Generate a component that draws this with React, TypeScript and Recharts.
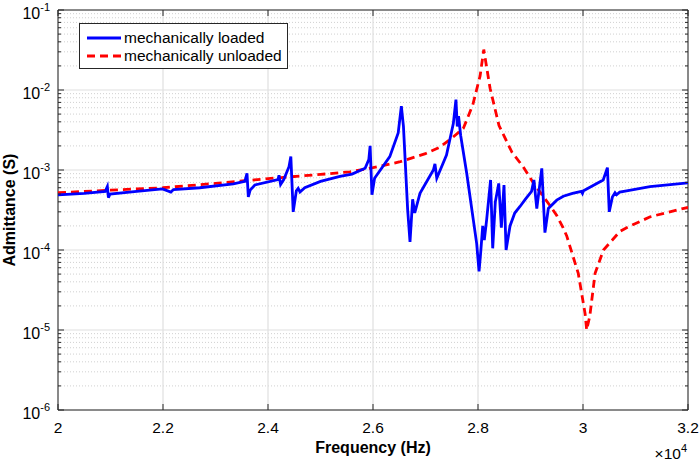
import { CartesianGrid, Label, Legend, Line, LineChart, ReferenceArea, XAxis, YAxis } from 'recharts';

const loadedFreq = [
  20000, 20500, 20900, 20940, 20960, 20990, 21500, 21990, 22150, 22200, 22700, 23340, 23560, 23600, 23625, 23660,
  23750, 24190, 24210, 24240, 24300, 24400, 24435, 24480, 24540, 24575, 24610, 24700, 25000, 25370, 25600, 25850,
  25920, 25945, 25980, 26030, 26320, 26480, 26540, 26580, 26660, 26705, 26755, 26795, 26895, 27150, 27180, 27215,
  27400, 27530, 27580, 27605, 27630, 27670, 27785, 27910, 27975, 28020, 28050, 28090, 28120, 28165, 28240, 28280,
  28330, 28395, 28445, 28495, 28535, 28610, 28700, 28800, 28900, 29020, 29065, 29120, 29215, 29275, 29340, 29500,
  29625, 29800, 29970, 29990, 30010, 30385, 30465, 30500, 30560, 30610, 30640, 30700, 30830, 31275, 32000
];
const loadedAdm = [
  4.9e-4, 5.1e-4, 5.4e-4, 6.2e-4, 4.5e-4, 5.0e-4, 5.4e-4, 5.8e-4, 5.3e-4, 5.7e-4, 6.0e-4, 6.7e-4, 7.2e-4, 9.1e-4, 4.6e-4, 5.6e-4,
  6.5e-4, 7.6e-4, 8.6e-4, 6.6e-4, 7.6e-4, 1.1e-3, 1.47e-3, 3.0e-4, 5.5e-4, 5.9e-4, 5.3e-4, 6.0e-4, 7.2e-4, 8.3e-4, 8.9e-4, 1.05e-3,
  1.35e-3, 2.0e-3, 4.9e-4, 7.9e-4, 1.47e-3, 2.9e-3, 6.3e-3, 3.5e-3, 3.2e-4, 1.26e-4, 4.3e-4, 2.9e-4, 5.1e-4, 1.0e-3, 1.19e-3, 7.9e-4,
  1.54e-3, 3.8e-3, 7.6e-3, 3.5e-3, 4.7e-3, 2.7e-3, 9.1e-4, 2.4e-4, 1.2e-4, 5.4e-5, 9.1e-5, 2.0e-4, 1.33e-4, 2.4e-4, 7.5e-4, 1.05e-4,
  4.0e-4, 6.8e-4, 1.9e-4, 6.5e-4, 1.0e-4, 2.0e-4, 2.9e-4, 3.5e-4, 4.3e-4, 5.4e-4, 7.5e-4, 3.3e-4, 1.05e-3, 1.65e-4, 3.3e-4, 4.2e-4,
  4.7e-4, 5.1e-4, 5.4e-4, 5.1e-4, 5.5e-4, 7.5e-4, 1.07e-3, 3.0e-4, 4.6e-4, 5.2e-4, 4.9e-4, 5.3e-4, 5.5e-4, 6.2e-4, 6.9e-4
];

const unloadedFreq = [
  20000, 21000, 22000, 23000, 24000, 25000, 25560, 26000, 26500, 27000, 27280, 27500, 27720, 27900, 28040, 28110,
  28230, 28400, 28650, 28860, 29060, 29370, 29500, 29620, 29690, 29910, 30040, 30070, 30130, 30230, 30390, 30700,
  30830, 31280, 31900, 32000
];
const unloadedAdm = [
  5.2e-4, 5.6e-4, 6.0e-4, 6.8e-4, 7.8e-4, 8.8e-4, 9.5e-4, 1.07e-3, 1.26e-3, 1.6e-3, 1.94e-3, 2.5e-3, 3.3e-3, 6.5e-3, 1.5e-2, 3.2e-2,
  1.05e-2, 3.6e-3, 1.65e-3, 1.1e-3, 6.8e-4, 3.6e-4, 2.7e-4, 1.9e-4, 1.5e-4, 5.1e-5, 1.6e-5, 1.0e-5, 1.5e-5, 5.1e-5, 1.0e-4, 1.7e-4,
  1.9e-4, 2.6e-4, 3.3e-4, 3.4e-4
];

const xTicks = [20000, 22000, 24000, 26000, 28000, 30000, 32000];
const majorY = [1e-6, 1e-5, 1e-4, 1e-3, 1e-2, 1e-1];
const minorY = majorY.slice(0, -1).flatMap((d) => [2, 3, 4, 5, 6, 7, 8, 9].map((m) => m * d));

const loaded = loadedFreq.map((f, i) => ({ f, y: loadedAdm[i] }));
const unloaded = unloadedFreq.map((f, i) => ({ f, y: unloadedAdm[i] }));

// chart fills the whole 700x461 window
const W = 700;
const H = 461;
const MARGIN = { top: 10, right: 12, left: 0, bottom: 0 };
const Y_AXIS_W = 58;
const X_AXIS_H = 51;
const PLOT_W = W - MARGIN.left - MARGIN.right - Y_AXIS_W;
const PLOT_H = H - MARGIN.top - MARGIN.bottom - X_AXIS_H;
const FONT = 'Arial, "Liberation Sans", Helvetica, sans-serif';
const INK = '#262626';

function XTick({ x, y, payload }: any) {
  return (
    <g>
      <line x1={x} y1={y} x2={x} y2={y - 6} stroke={INK} />
      <line x1={x} y1={y - PLOT_H} x2={x} y2={y - PLOT_H + 6} stroke={INK} />
      <text x={x} y={y + 23} textAnchor="middle" fontSize={15.5} fontFamily={FONT} fill="#000">
        {String(payload.value / 10000)}
      </text>
    </g>
  );
}

function YTick({ x, y, payload }: any) {
  const exp = Math.round(Math.log10(payload.value));
  const major = Math.abs(Math.log10(payload.value) - exp) < 1e-6;
  const len = major ? 6 : 3;
  return (
    <g>
      <line x1={x} y1={y} x2={x + len} y2={y} stroke={INK} />
      <line x1={x + PLOT_W} y1={y} x2={x + PLOT_W - len} y2={y} stroke={INK} />
      {major && (
        <text x={x - 8} y={y + 9} textAnchor="end" fontSize={16} fontFamily={FONT} fill="#000">
          <tspan>10</tspan>
          <tspan dy={-8} fontSize={11}>{String(exp)}</tspan>
        </text>
      )}
    </g>
  );
}

function LegendBox() {
  const row = (top: number, color: string, dash: string | undefined, text: string) => (
    <div style={{ position: 'absolute', left: 0, top, height: 18, width: '100%' }}>
      <svg width={42} height={18} style={{ position: 'absolute', left: 7, top: 0 }}>
        <line x1={0} y1={9} x2={34} y2={9} stroke={color} strokeWidth={2.8} strokeDasharray={dash} />
      </svg>
      <span
        style={{
          position: 'absolute',
          left: 44,
          top: 0,
          lineHeight: '18px',
          fontSize: 15.5,
          fontFamily: FONT,
          color: '#000',
          whiteSpace: 'nowrap'
        }}
      >
        {text}
      </span>
    </div>
  );
  return (
    <div
      style={{
        position: 'relative',
        width: 209,
        height: 46,
        boxSizing: 'border-box',
        border: `1.3px solid ${INK}`,
        background: '#fff'
      }}
    >
      {row(5, '#0000ff', undefined, 'mechanically loaded')}
      {row(23, '#ff0000', '8 5', 'mechanically unloaded')}
    </div>
  );
}

export default function App() {
  return (
    <div style={{ position: 'fixed', left: 0, top: 0, width: W, height: H, background: '#fff' }}>
      <LineChart width={W} height={H} margin={MARGIN} style={{ fontFamily: FONT, overflow: 'visible' }}>
        <CartesianGrid horizontalValues={minorY} vertical={false} stroke="#d0d0d0" strokeDasharray="1 2" />
        <CartesianGrid horizontalValues={majorY} verticalValues={xTicks} stroke="#e0e0e0" strokeWidth={1.2} />
        <XAxis
          dataKey="f"
          type="number"
          domain={[20000, 32000]}
          ticks={xTicks}
          allowDataOverflow
          height={X_AXIS_H}
          axisLine={false}
          tickLine={false}
          tickSize={0}
          tickMargin={0}
          tick={<XTick />}
          interval={0}
        >
          <Label
            content={({ viewBox }: any) => (
              <g fontFamily={FONT}>
                <text
                  x={viewBox.x + viewBox.width / 2}
                  y={viewBox.y + 43}
                  textAnchor="middle"
                  fontSize={16}
                  fontWeight="bold"
                  fill="#000"
                >
                  Frequency (Hz)
                </text>
                <text x={viewBox.x + viewBox.width - 1} y={viewBox.y + 49} textAnchor="end" fontSize={15.5} fill="#000">
                  <tspan>×10</tspan>
                  <tspan dy={-7} fontSize={11}>4</tspan>
                </text>
              </g>
            )}
          />
        </XAxis>
        <YAxis
          type="number"
          scale="log"
          domain={[1e-6, 1e-1]}
          ticks={[...majorY, ...minorY]}
          allowDataOverflow
          width={Y_AXIS_W}
          axisLine={false}
          tickLine={false}
          tickSize={0}
          tickMargin={0}
          tick={<YTick />}
          interval={0}
        >
          <Label
            content={({ viewBox }: any) => (
              <text
                x={15}
                y={viewBox.y + viewBox.height / 2}
                transform={`rotate(-90, 15, ${viewBox.y + viewBox.height / 2})`}
                textAnchor="middle"
                fontSize={16}
                fontWeight="bold"
                fontFamily={FONT}
                fill="#000"
              >
                Admittance (S)
              </text>
            )}
          />
        </YAxis>
        <Legend
          layout="vertical"
          verticalAlign="middle"
          align="center"
          content={<LegendBox />}
          wrapperStyle={{ left: 79, top: 23, width: 209 }}
        />
        <Line
          data={unloaded}
          dataKey="y"
          type="linear"
          stroke="#ff0000"
          strokeWidth={2.8}
          strokeDasharray="8 5"
          dot={false}
          isAnimationActive={false}
        />
        <Line
          data={loaded}
          dataKey="y"
          type="linear"
          stroke="#0000ff"
          strokeWidth={2.8}
          dot={false}
          isAnimationActive={false}
        />
        <ReferenceArea x1={20000} x2={32000} y1={1e-6} y2={1e-1} fill="none" stroke={INK} strokeWidth={1} />
      </LineChart>
    </div>
  );
}
